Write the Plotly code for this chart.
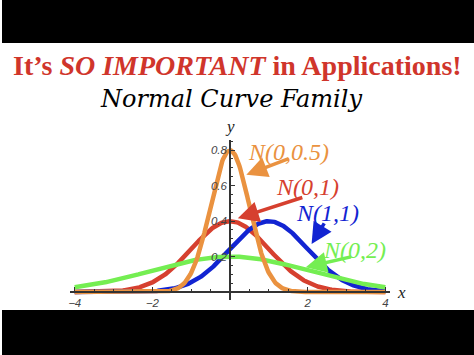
import numpy as np
import plotly.graph_objects as go

# ---- data ----
x_vals = np.linspace(-4, 4, 401)
series_names = ["N(0,1)", "N(1,1)", "N(0,2)", "N(0,0.5)"]
means = [0, 1, 0, 0]
sigmas = [1, 1, 2, 0.5]
colors = ["#d6402f", "#1224d2", "#74ee52", "#ea9240"]
x_ticks = [-4, -2, 2, 4]
y_ticks = [0.2, 0.4, 0.6, 0.8]

label_xy = {"N(0,0.5)": (1.5, 0.79), "N(0,1)": (2.0, 0.59), "N(1,1)": (2.5, 0.445), "N(0,2)": (3.2, 0.238)}
arrow_tail = {"N(0,0.5)": (1.55, 0.755), "N(0,1)": (1.9, 0.535), "N(1,1)": (2.45, 0.395), "N(0,2)": (3.15, 0.2)}
arrow_head = {"N(0,0.5)": (0.42, 0.66), "N(0,1)": (0.2, 0.415), "N(1,1)": (2.1, 0.27), "N(0,2)": (1.95, 0.14)}

W, H = 474, 355
SERIF = "Liberation Serif"
fig = go.Figure()
for name, m, s, c in zip(series_names, means, sigmas, colors):
    y = np.exp(-0.5 * ((x_vals - m) / s) ** 2) / (s * np.sqrt(2 * np.pi))
    fig.add_trace(go.Scatter(x=x_vals, y=y, mode="lines", name=name,
                             line=dict(color=c, width=4.5), hoverinfo="skip"))

def px_x(p):
    return p / W

def px_y(p):
    return (H - p) / H

x_dom = [px_x(68), px_x(390)]
x_rng = [(68 - 229) / 39, (390 - 229) / 39]
y_dom = [px_y(300), px_y(140)]
y_rng = [(292 - 300) / 177.5, (292 - 140) / 177.5]

tickfont = dict(family="Liberation Sans", size=11.5, color="#444444", style="italic")
fig.update_layout(
    width=W, height=H, margin=dict(l=0, r=0, t=0, b=0),
    paper_bgcolor="white", plot_bgcolor="rgba(0,0,0,0)",
    showlegend=False,
    xaxis=dict(domain=x_dom, range=x_rng, anchor="free", position=px_y(292),
               showgrid=False, zeroline=False, showline=True, linecolor="#333333", linewidth=1.5,
               ticks="inside", ticklen=4, tickcolor="#333333", tickvals=x_ticks,
               ticktext=["\u22124", "\u22122", "2", "4"], tickfont=tickfont,
               minor=dict(dtick=0.5, ticks="inside", ticklen=2, tickcolor="#333333")),
    yaxis=dict(domain=y_dom, range=y_rng, anchor="free", position=px_x(229),
               showgrid=False, zeroline=False, showline=True, linecolor="#333333", linewidth=1.5,
               ticks="inside", ticklen=4, tickcolor="#333333", tickvals=y_ticks,
               tickfont=tickfont, ticklabelstandoff=0,
               minor=dict(dtick=0.05, ticks="inside", ticklen=2, tickcolor="#333333")),
)

fig.add_shape(type="rect", xref="paper", yref="paper", x0=0, x1=1, y0=px_y(43), y1=1,
              fillcolor="black", line_width=0, layer="above")
fig.add_shape(type="rect", xref="paper", yref="paper", x0=0, x1=1, y0=0, y1=px_y(310),
              fillcolor="black", line_width=0, layer="above")

def paper_text(xp, yp, text, font):
    fig.add_annotation(xref="paper", yref="paper", x=px_x(xp), y=px_y(yp), showarrow=False,
                       xanchor="center", yanchor="middle", text=text, borderpad=0, font=font)

paper_text(236, 66, "<b>It\u2019s <i>SO IMPORTANT</i> in Applications!</b>",
           dict(family=SERIF, size=28, color="#d0352b"))
paper_text(230, 99, "<i>Normal Curve Family</i>",
           dict(family="DejaVu Serif", size=24, color="black"))
paper_text(229, 127, "<i>y</i>", dict(family=SERIF, size=17, color="#222222"))
paper_text(401, 292, "<i>x</i>", dict(family=SERIF, size=17, color="#222222"))

for name, c in zip(series_names, colors):
    lx, ly = label_xy[name]
    fig.add_annotation(x=lx, y=ly, xref="x", yref="y", showarrow=False, text="<i>" + name + "</i>",
                       xanchor="center", yanchor="middle",
                       font=dict(family=SERIF, size=24, color=c))
    tx, ty = arrow_tail[name]
    hx, hy = arrow_head[name]
    fig.add_annotation(x=hx, y=hy, ax=tx, ay=ty, xref="x", yref="y", axref="x", ayref="y",
                       text="", showarrow=True, arrowhead=2, arrowsize=1.2, arrowwidth=3.5,
                       arrowcolor=c)

fig.write_html("out.html")
